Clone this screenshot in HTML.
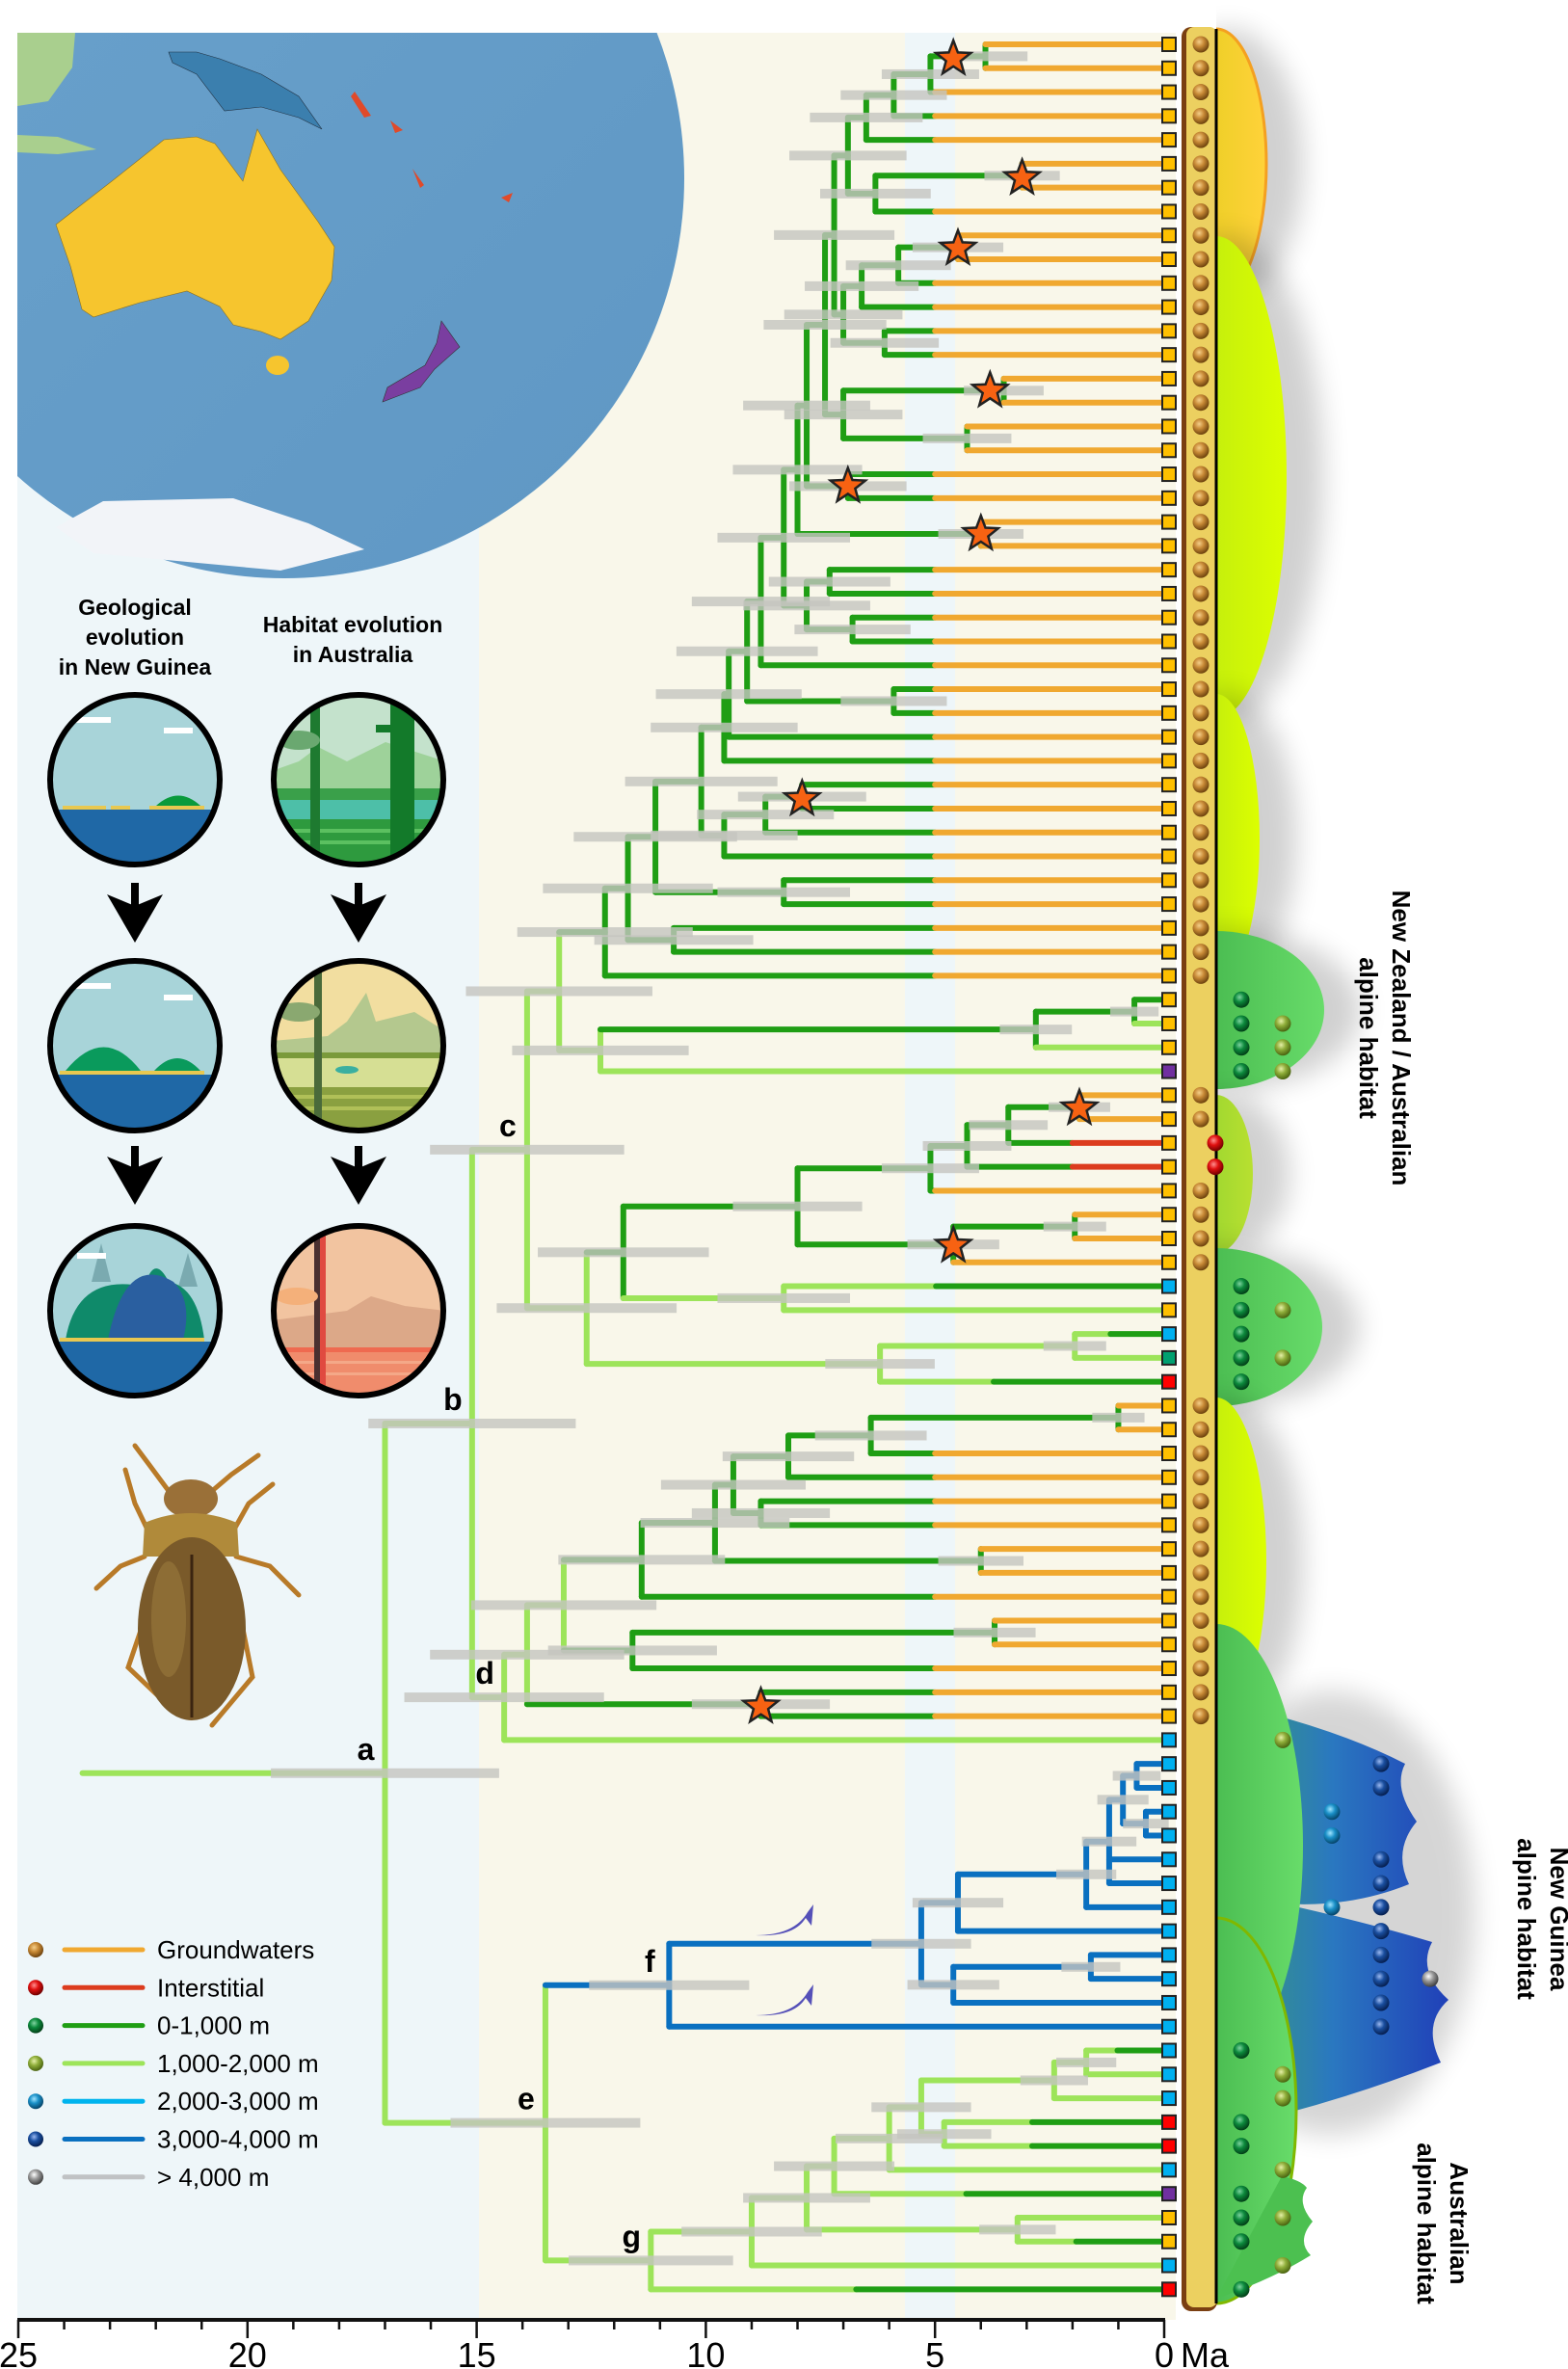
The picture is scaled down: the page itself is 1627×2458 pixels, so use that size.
<!DOCTYPE html>
<html><head><meta charset="utf-8"><title>Phylogeny of alpine and groundwater diving beetles</title>
<style>
html,body{margin:0;padding:0;background:#fff;}
svg{display:block;}
text{font-family:"Liberation Sans",sans-serif;}
</style></head>
<body>
<svg id="fig" xmlns="http://www.w3.org/2000/svg" width="1627" height="2458" viewBox="0 0 1627 2458">
<defs>
  <radialGradient id="gBrown" cx="40%" cy="35%" r="65%"><stop offset="0" stop-color="#f5cf8a"/><stop offset="0.45" stop-color="#c88a36"/><stop offset="1" stop-color="#6e430e"/></radialGradient>
  <radialGradient id="gRed" cx="40%" cy="35%" r="65%"><stop offset="0" stop-color="#ff9090"/><stop offset="0.45" stop-color="#e01010"/><stop offset="1" stop-color="#700000"/></radialGradient>
  <radialGradient id="gDk" cx="40%" cy="35%" r="65%"><stop offset="0" stop-color="#7fd3a0"/><stop offset="0.45" stop-color="#0c8a3c"/><stop offset="1" stop-color="#024018"/></radialGradient>
  <radialGradient id="gOl" cx="40%" cy="35%" r="65%"><stop offset="0" stop-color="#e6f0a8"/><stop offset="0.45" stop-color="#8fae3a"/><stop offset="1" stop-color="#4a6410"/></radialGradient>
  <radialGradient id="gCy" cx="40%" cy="35%" r="65%"><stop offset="0" stop-color="#a0e4ff"/><stop offset="0.45" stop-color="#1a90c8"/><stop offset="1" stop-color="#06456a"/></radialGradient>
  <radialGradient id="gBl" cx="40%" cy="35%" r="65%"><stop offset="0" stop-color="#9ab8f0"/><stop offset="0.45" stop-color="#1a4fa0"/><stop offset="1" stop-color="#061f50"/></radialGradient>
  <radialGradient id="gGr" cx="40%" cy="35%" r="65%"><stop offset="0" stop-color="#ffffff"/><stop offset="0.45" stop-color="#9a9a9a"/><stop offset="1" stop-color="#404040"/></radialGradient>
  <linearGradient id="hOr" x1="0" x2="1"><stop offset="0" stop-color="#e0cc18"/><stop offset="1" stop-color="#ffd23a"/></linearGradient>
  <linearGradient id="hLime" x1="0" x2="1"><stop offset="0" stop-color="#b0e018"/><stop offset="1" stop-color="#dcff00"/></linearGradient>
  <linearGradient id="hOlive" x1="0" x2="1"><stop offset="0" stop-color="#8cd030"/><stop offset="1" stop-color="#b8e030"/></linearGradient>
  <linearGradient id="hGreen" x1="0" x2="1"><stop offset="0" stop-color="#2f9f3a"/><stop offset="1" stop-color="#68dc6a"/></linearGradient>
  <linearGradient id="hBlue" x1="0" x2="1"><stop offset="0" stop-color="#3aa070"/><stop offset="0.5" stop-color="#2a78c0"/><stop offset="1" stop-color="#2040b8"/></linearGradient>
  <linearGradient id="ocean" x1="0" y1="0" x2="1" y2="1"><stop offset="0" stop-color="#6aa2cc"/><stop offset="1" stop-color="#5f97c4"/></linearGradient>
  <filter id="blur" x="-50%" y="-50%" width="200%" height="200%"><feGaussianBlur stdDeviation="14"/></filter>
  <clipPath id="panelClip"><rect x="18" y="34" width="1202" height="2373"/></clipPath>
  <clipPath id="c1"><circle cx="140" cy="809" r="88"/></clipPath>
  <clipPath id="c2"><circle cx="140" cy="1085" r="88"/></clipPath>
  <clipPath id="c3"><circle cx="140" cy="1360" r="88"/></clipPath>
  <clipPath id="c4"><circle cx="372" cy="809" r="88"/></clipPath>
  <clipPath id="c5"><circle cx="372" cy="1085" r="88"/></clipPath>
  <clipPath id="c6"><circle cx="372" cy="1360" r="88"/></clipPath>
  <clipPath id="rightClip"><rect x="1262" y="0" width="400" height="2458"/></clipPath>
</defs>

<!-- backgrounds -->
<rect x="18" y="34" width="479" height="2373" fill="#eef6f9"/>
<rect x="497" y="34" width="723" height="2373" fill="#f9f7ea"/>
<rect x="939" y="34" width="52" height="2373" fill="#eef6f9"/>

<!-- globe map -->
<g clip-path="url(#panelClip)">
  <circle cx="295" cy="185" r="415" fill="url(#ocean)"/>
  <path d="M18,34 L78,34 L75,70 L50,105 L18,110 Z" fill="#a9cf8e"/>
  <path d="M18,140 L60,142 L100,155 L60,160 L18,158Z" fill="#a9cf8e"/>
  <path d="M58,233 L116,188 L145,165 L170,145 L204,142 L223,149 L252,188 L267,134 L291,176 L330,230 L347,256 L344,291 L320,333 L291,352 L271,344 L242,337 L228,318 L194,302 L145,314 L97,329 L85,321 L73,276 Z" fill="#f6c52e" stroke="#8a7020" stroke-width="0.6"/>
  <ellipse cx="288" cy="379" rx="12" ry="10" fill="#f6c52e"/>
  <path d="M175,54 L204,54 L228,61 L271,77 L310,100 L334,134 L310,122 L271,111 L233,115 L204,77 L179,65Z" fill="#3b7fae" stroke="#234" stroke-width="0.6"/>
  <path d="M458,333 L477,360 L451,383 L436,402 L397,417 L402,402 L441,379 L453,356Z" fill="#7a3ea0" stroke="#333" stroke-width="0.6"/>
  <path d="M368,95 L385,120 L378,122 L364,100Z M405,125 L418,135 L410,138Z M428,175 L440,192 L436,195Z M520,205 L532,200 L528,210Z" fill="#e04a2a"/>
  <path d="M58,547 L107,520 L242,517 L320,543 L378,570 L291,592 L97,574Z" fill="#f2f4f8"/>
</g>

<!-- left panel titles -->
<g font-weight="bold" font-size="23" text-anchor="middle" fill="#000">
  <text x="140" y="638">Geological</text><text x="140" y="669">evolution</text><text x="140" y="700">in New Guinea</text>
</g>
<g font-weight="bold" font-size="23" text-anchor="middle" fill="#000">
  <text x="366" y="656">Habitat evolution</text><text x="366" y="687">in Australia</text>
</g>

<!-- geology circles -->
<g clip-path="url(#c1)">
  <rect x="50" y="720" width="180" height="180" fill="#a8d4d9"/>
  <rect x="50" y="840" width="180" height="60" fill="#1f68a6"/>
  <rect x="65" y="836" width="45" height="4" fill="#e8c850"/><rect x="115" y="836" width="20" height="4" fill="#e8c850"/><rect x="155" y="836" width="57" height="4" fill="#e8c850"/>
  <path d="M162,836 Q185,815 208,836Z" fill="#0a9a3c"/>
  <rect x="75" y="744" width="40" height="6" fill="#fff"/><rect x="170" y="755" width="30" height="6" fill="#fff"/>
</g>
<g clip-path="url(#c2)">
  <rect x="50" y="995" width="180" height="180" fill="#a8d4d9"/>
  <rect x="50" y="1115" width="180" height="60" fill="#1f68a6"/>
  <rect x="62" y="1111" width="150" height="4" fill="#e8c850"/>
  <path d="M68,1111 Q108,1062 146,1111Z M160,1111 Q184,1085 208,1111Z" fill="#0a9a5c"/>
  <rect x="75" y="1020" width="40" height="6" fill="#fff"/><rect x="170" y="1032" width="30" height="6" fill="#fff"/>
</g>
<g clip-path="url(#c3)">
  <rect x="50" y="1270" width="180" height="180" fill="#a8d4d9"/>
  <path d="M95,1330 L105,1290 L115,1330Z M185,1335 L195,1300 L205,1335Z" fill="#7aaab0"/>
  <path d="M68,1390 Q80,1320 150,1335 Q160,1300 175,1330 Q205,1335 212,1390Z" fill="#0f8a6a"/>
  <path d="M112,1390 Q130,1300 180,1330 Q200,1350 190,1390Z" fill="#2a5fa0"/>
  <rect x="62" y="1388" width="150" height="4" fill="#e8c850"/>
  <rect x="50" y="1392" width="180" height="60" fill="#1f68a6"/>
  <rect x="80" y="1300" width="30" height="6" fill="#fff"/>
</g>
<g fill="none" stroke="#000" stroke-width="6">
  <circle cx="140" cy="809" r="88"/>
  <circle cx="140" cy="1085" r="88"/>
  <circle cx="140" cy="1360" r="88"/>
</g>

<!-- habitat circles -->
<g clip-path="url(#c4)">
  <rect x="282" y="720" width="180" height="180" fill="#c4e2cc"/>
  <path d="M282,800 L310,790 L330,775 L360,790 L400,770 L462,790 L462,820 L282,820Z" fill="#9ed29a"/>
  <rect x="282" y="818" width="180" height="12" fill="#3aa04a"/>
  <rect x="282" y="830" width="180" height="20" fill="#4dbfa8"/>
  <rect x="282" y="850" width="180" height="60" fill="#2e9a3e"/>
  <rect x="282" y="860" width="180" height="4" fill="#5bc060"/><rect x="282" y="872" width="180" height="4" fill="#5bc060"/>
  <rect x="322" y="720" width="10" height="180" fill="#1e7a30"/>
  <rect x="405" y="720" width="25" height="180" fill="#137a2a"/>
  <rect x="390" y="752" width="40" height="8" fill="#137a2a"/>
  <ellipse cx="310" cy="768" rx="22" ry="10" fill="#6aa870"/>
</g>
<g clip-path="url(#c5)">
  <rect x="282" y="995" width="180" height="180" fill="#f2dea0"/>
  <path d="M282,1080 L340,1075 L360,1060 L380,1030 L390,1060 L430,1050 L462,1070 L462,1095 L282,1095Z" fill="#b4c88e"/>
  <rect x="282" y="1092" width="180" height="6" fill="#7a9a3a"/>
  <rect x="282" y="1098" width="180" height="30" fill="#d6df94"/>
  <ellipse cx="360" cy="1110" rx="12" ry="4" fill="#3aafa0"/>
  <rect x="282" y="1128" width="180" height="50" fill="#8aa040"/>
  <rect x="282" y="1136" width="180" height="4" fill="#b0c058"/><rect x="282" y="1148" width="180" height="4" fill="#b0c058"/>
  <rect x="326" y="995" width="8" height="180" fill="#4a6a3a"/>
  <ellipse cx="310" cy="1050" rx="22" ry="10" fill="#8aa870"/>
</g>
<g clip-path="url(#c6)">
  <rect x="282" y="1270" width="180" height="180" fill="#f2c4a0"/>
  <path d="M282,1370 L360,1360 L385,1345 L420,1355 L462,1360 L462,1400 L282,1400Z" fill="#dca888"/>
  <rect x="282" y="1398" width="180" height="5" fill="#ef6a50"/>
  <rect x="282" y="1403" width="180" height="50" fill="#f08c6c"/>
  <rect x="282" y="1412" width="180" height="3" fill="#f4a888"/><rect x="282" y="1424" width="180" height="3" fill="#f4a888"/>
  <rect x="326" y="1270" width="6" height="180" fill="#4a3030"/>
  <rect x="332" y="1270" width="6" height="180" fill="#e04a40"/>
  <ellipse cx="308" cy="1345" rx="22" ry="9" fill="#f4b07a"/>
</g>
<g fill="none" stroke="#000" stroke-width="6">
  <circle cx="372" cy="809" r="88"/>
  <circle cx="372" cy="1085" r="88"/>
  <circle cx="372" cy="1360" r="88"/>
</g>
<!-- arrows -->
<g fill="#000">
  <g><rect x="136" y="916" width="8" height="30"/><path d="M111,928 L140,940 L169,928 L140,978Z"/></g>
  <g><rect x="136" y="1189" width="8" height="30"/><path d="M111,1200 L140,1212 L169,1200 L140,1250Z"/></g>
  <g><rect x="368" y="916" width="8" height="30"/><path d="M343,928 L372,940 L401,928 L372,978Z"/></g>
  <g><rect x="368" y="1189" width="8" height="30"/><path d="M343,1200 L372,1212 L401,1200 L372,1250Z"/></g>
</g>

<!-- beetle -->
<g>
  <g stroke="#b87a28" stroke-width="5" fill="none" stroke-linecap="round">
    <path d="M175,1547 L155,1520 L140,1500"/><path d="M220,1547 L240,1530 L268,1510"/>
    <path d="M152,1585 L140,1560 L130,1525"/><path d="M244,1585 L258,1560 L283,1540"/>
    <path d="M150,1615 L125,1625 L100,1648"/><path d="M245,1615 L280,1625 L310,1655"/>
    <path d="M150,1680 L133,1730 L175,1770"/><path d="M250,1680 L262,1740 L220,1790"/>
  </g>
  <ellipse cx="198" cy="1555" rx="28" ry="20" fill="#9a7038"/>
  <path d="M150,1580 Q198,1560 246,1580 L248,1615 L148,1615Z" fill="#b08a3a"/>
  <ellipse cx="199" cy="1690" rx="56" ry="95" fill="#7a5a2a"/>
  <path d="M199,1613 L199,1782" stroke="#3a2410" stroke-width="3"/>
  <ellipse cx="175" cy="1680" rx="18" ry="60" fill="#a08040" opacity="0.5"/>
</g>

<!-- legend -->
<g id="legend"></g>

<!-- hills and right column -->
<g id="hills"></g>
<g id="tree"></g>
<g id="column"></g>
<g id="axis"></g>

<!-- right labels -->
<g font-weight="bold" font-size="26" fill="#000" text-anchor="middle">
  <text transform="translate(1445,1077) rotate(90)">New Zealand / Australian</text>
  <text transform="translate(1411,1077) rotate(90)">alpine habitat</text>
  <text transform="translate(1609,1991) rotate(90)">New Guinea</text>
  <text transform="translate(1575,1991) rotate(90)">alpine habitat</text>
  <text transform="translate(1505,2307) rotate(90)">Australian</text>
  <text transform="translate(1471,2307) rotate(90)">alpine habitat</text>
</g>

<script>
// ===== data =====
const tipTypes = "yyyyyyyyyyyyyyyyyyyyyyyyyyyyyyyyyyyyyyyyyyypyyyyyyyybybtryyyyyyyyyyyyyybbbbbbbbbbbbbbbbrrbpyybr".split("");
const leafStyles = "oooooooooooooooooooooooooooooooooooooooogllloorroooomlmlmoooooooooooooolbbbbbbbbbbbbmllmmlmlmlm".split("");
const dotRowsBrown = [0,1,2,3,4,5,6,7,8,9,10,11,12,13,14,15,16,17,18,19,20,21,22,23,24,25,26,27,28,29,30,31,32,33,34,35,36,37,38,39,44,45,48,49,50,51,57,58,59,60,61,62,63,64,65,66,67,68,69,70];
const dotRowsRed = [46,47];
const dotsDarkGreen = [40,41,42,43,52,53,54,55,56,84,87,88,90,91,92,94];
const dotsOlive = [41,42,43,53,55,71,85,86,89,93,91];
const dotsCyan = [74,75,78];
const dotsBlue = [72,73,76,77,78,79,80,81,82,83];
const dotsGray = [81];
const starAges = [4.6,3.1,4.5,3.8,6.9,4.0,7.9,1.85,4.6,8.8];
const starRows = [0.6,5.6,8.55,14.5,18.5,20.5,31.6,44.55,50.3,69.6];
const nodeLabels = ["a","b","c","d","e","f","g"];
const axisTicks = [25,20,15,10,5,0];
const legendLabels = ["Groundwaters","Interstitial","0-1,000 m","1,000-2,000 m","2,000-3,000 m","3,000-4,000 m","> 4,000 m"];
const legendColors = ["#f0a830","#dc3c1e","#1f9e14","#9de45a","#00b4ee","#0a70c0","#c0c2c4"];
const legendDots = ["gBrown","gRed","gDk","gOl","gCy","gBl","gGr"];
const rootStemAge = 23.6;

// tree: [age, child, child, ...], leaf = tip index
const N69=[6.9,[6.5,[5.9,[5.1,[3.9,0,1],2],3],4],[6.3,[3.1,5,6],7]];
const S1b=[7.0,[6.6,[5.8,[4.5,8,9],10],11],[6.1,12,13]];
const N74=[7.4,[7.2,N69,S1b],[7.0,[3.5,14,15],[4.3,16,17]]];
const N80=[8.0,[7.8,N74,[6.9,18,19]],[4.0,20,21]];
const N83=[8.3,N80,[7.8,[7.3,22,23],[6.8,24,25]]];
const N96=[9.6,[9.5,[9.1,[8.8,N83,26],[5.9,27,28]],29],30];
const N117=[11.7,[11.1,[10.1,N96,[9.6,[8.7,[7.9,31,32],33],34]],[8.3,35,36]],[10.7,37,38]];
const TopC=[12.2,N117,39];
const GrpC=[12.3,[2.8,[0.65,40,41],42],43];
const L1=[8.0,[5.1,[4.3,[3.4,[1.85,44,45],46],47],48],[4.6,[1.95,49,50],51]];
const Lwr=[12.6,[11.8,L1,[8.3,52,53]],[6.2,[1.95,54,55],56]];
const cNode=[13.9,[13.2,TopC,GrpC],Lwr];
const Da=[11.4,[9.8,[9.4,[8.2,[6.4,[1.0,57,58],59],60],[8.8,61,62]],[4.0,63,64]],65];
const dNode=[14.4,[13.9,[13.1,Da,[11.6,[3.7,66,67],68]],[8.8,69,70]],71];
const bNode=[15.1,cNode,dNode];
const fNode=[10.8,[5.3,[4.5,[1.7,[1.2,[0.9,[0.6,72,73],[0.4,74,75]],76,77],78],79],[4.6,[1.6,80,81],82]],83];
const gNode=[11.2,[9.0,[7.8,[7.2,[6.0,[5.3,[2.4,[1.7,84,85],86],[4.8,87,88]],89],90],[3.2,91,92]],93],94];
const eNode=[13.5,fNode,gNode];
const aNode=[17.0,bNode,eNode];
const labeledNodes=[aNode,bNode,cNode,dNode,eNode,fNode,gNode];

// ===== scales =====
const X = a => 1208 - a*47.56;
const Y = i => 46 + i*24.78;
const NS="http://www.w3.org/2000/svg";
function el(tag, attrs, parent){ const e=document.createElementNS(NS,tag); for(const k in attrs) e.setAttribute(k,attrs[k]); parent.appendChild(e); return e; }
const COL={o:"#f0a830",r:"#dc3c1e",g:"#1f9e14",l:"#9de45a",b:"#0a70c0",c:"#00b4ee"};
const tipFill={y:"#ffc000",p:"#7030a0",b:"#00b0f0",t:"#00a070",r:"#ff0000"};

const treeG=document.getElementById('tree');
const lineG=el('g',{},treeG); const barG=el('g',{},treeG); const markG=el('g',{},treeG);

function tipsOf(n){ return typeof n==="number"?[n]:n.slice(1).flatMap(tipsOf); }
function nodeY(n){ if(typeof n==="number") return Y(n); const k=n.slice(1); return (nodeY(k[0])+nodeY(k[k.length-1]))/2; }
function nodeColor(n){
  const t=tipsOf(n);
  if(t.every(i=>i>=72&&i<=83)) return COL.b;
  if(n[0]>=12.25) return COL.l;
  if(t.every(i=>i>=84)) return COL.l;
  if(t.every(i=>i>=52&&i<=56)) return COL.l;
  return COL.g;
}
function hline(x1,x2,y,c){
  const l=el('line',{x1:x1,x2:x2,y1:y,y2:y,stroke:c,'stroke-width':6,'stroke-linecap':'round'},lineG);
  
  
}
function drawLeaf(i,pAge){
  const y=Y(i), s=leafStyles[i], xe=1206;
  if(s==='o'){ const sp=Math.min(pAge,5.0); if(pAge>sp) hline(X(pAge),X(sp),y,COL.g); hline(X(sp),xe,y,COL.o); }
  else if(s==='r'){ hline(X(pAge),X(2.0),y,COL.g); hline(X(2.0),xe,y,COL.r); }
  else if(s==='m'){ const sp=Math.min(pAge,0.6*pAge); hline(X(pAge),X(sp),y,COL.l); hline(X(sp),xe,y,COL.g); }
  else hline(X(pAge),xe,y,COL[s]);
  const sq=el('rect',{x:1206,y:y-7,width:14,height:14,fill:tipFill[tipTypes[i]],stroke:'#222','stroke-width':2},markG);
  
  
}
function draw(n,pAge){
  if(typeof n==="number"){ drawLeaf(n,pAge); return; }
  const a=n[0], y=nodeY(n), c=nodeColor(n);
  hline(X(pAge),X(a),y,c);
  const k=n.slice(1);
  const v=el('line',{x1:X(a),x2:X(a),y1:nodeY(k[0]),y2:nodeY(k[k.length-1]),stroke:c,'stroke-width':6,'stroke-linecap':'round'},lineG);
  
  
  const w=0.12*a+0.45;
  const b=el('rect',{x:X(a+w),y:y-5,width:(2*w)*47.56,height:10,fill:'#c4c4bf',opacity:0.8},barG);
  
  
  k.forEach(ch=>draw(ch,a));
}
draw(aNode,rootStemAge);

// stars
function starPath(cx,cy,R,r){ let p=""; for(let j=0;j<10;j++){ const ang=-Math.PI/2+j*Math.PI/5, rr=j%2?r:R; p+=(j?"L":"M")+(cx+rr*Math.cos(ang)).toFixed(1)+","+(cy+rr*Math.sin(ang)).toFixed(1);} return p+"Z"; }
starAges.forEach((a,j)=>{
  const s=el('path',{d:starPath(X(a),Y(starRows[j]),19,8),fill:'#f76212',stroke:'#222','stroke-width':2.5},markG);
  
  
});
// node labels
labeledNodes.forEach((n,j)=>{
  const t=el('text',{x:X(n[0])-20,y:nodeY(n)-14,'font-size':32,'font-weight':'bold','text-anchor':'middle'},markG);
  t.textContent=nodeLabels[j];
  
  
});
// small purple arrows near f
[[824,1996],[824,2079]].forEach(p=>{
  const ar=el('path',{d:`M${p[0]-40},${p[1]+12} Q${p[0]},${p[1]+12} ${p[0]+14},${p[1]-12} L${p[0]+20},${p[1]-20} L${p[0]+18},${p[1]+2} L${p[0]+12},${p[1]-6} Q${p[0]},${p[1]+14} ${p[0]-40},${p[1]+12}Z`,fill:'#5550b8'},markG);
  
  
});

// ===== hills =====
const hills=document.getElementById('hills');
function hill(cy,ry,rx,fill,name,stroke){
  const g=el('g',{'clip-path':'url(#rightClip)'},hills);
  el('ellipse',{cx:1275,cy:cy,rx:rx+25,ry:ry,fill:'#000',opacity:0.18,filter:'url(#blur)'},g);
  const e=el('ellipse',{cx:1262,cy:cy,rx:rx,ry:ry,fill:fill,stroke:stroke||'none','stroke-width':3},g);
  
  
}
hill(170,140,52,'url(#hOr)','groundwater-hill-1','#f4a020');
hill(495,250,73,'url(#hLime)','groundwater-hill-2');
hill(870,150,45,'url(#hLime)','groundwater-hill-3');
hill(1048,82,112,'url(#hGreen)','nz-alpine-hill-1');
hill(1218,82,38,'url(#hOlive)','groundwater-hill-4');
hill(1377,82,110,'url(#hGreen)','nz-alpine-hill-2');
hill(1620,170,52,'url(#hLime)','groundwater-hill-5');
// new guinea blue mountains
(function(){
  const g=el('g',{'clip-path':'url(#rightClip)'},hills);
  el('ellipse',{cx:1380,cy:1985,rx:150,ry:230,fill:'#000',opacity:0.16,filter:'url(#blur)'},g);
  const p=el('path',{d:"M1262,1765 Q1380,1790 1458,1830 Q1445,1855 1470,1890 Q1445,1920 1462,1955 Q1400,1980 1330,1975 Q1420,1995 1486,2015 Q1470,2045 1503,2075 Q1475,2100 1495,2140 Q1380,2185 1262,2210Z",fill:'url(#hBlue)'},g);
  
  
  const e=el('ellipse',{cx:1262,cy:1915,rx:90,ry:230,fill:'url(#hGreen)'},g);
  
  
  const e2=el('ellipse',{cx:1262,cy:2190,rx:83,ry:200,fill:'url(#hGreen)',stroke:'#80b800','stroke-width':3},g);
  
  
  el('path',{d:"M1330,2258 Q1350,2262 1356,2270 Q1345,2285 1362,2305 Q1345,2325 1360,2340 Q1320,2365 1262,2385Z",fill:'#4cc050'},g);
})();

// ===== column =====
const col=document.getElementById('column');
const cr=el('rect',{x:1226,y:28,width:37,height:2370,rx:10,fill:'#7a3f12'},col);


el('rect',{x:1231,y:28,width:32,height:2366,rx:8,fill:'#ecd060'},col);
el('line',{x1:1262,x2:1262,y1:30,y2:2390,stroke:'#000','stroke-width':3},col);
function dot(x,row,grad,name){
  const c=el('circle',{cx:x,cy:Y(row),r:8.5,fill:'url(#'+grad+')'},col);
  
  
}
dotRowsBrown.forEach(r=>dot(1246,r,'gBrown','groundwater-dot'));
dotRowsRed.forEach(r=>dot(1261,r,'gRed','interstitial-dot'));
dotsDarkGreen.forEach(r=>dot(1288,r,'gDk','lowland-dot'));
dotsOlive.forEach(r=>dot(1331,r,'gOl','montane-dot'));
dotsCyan.forEach(r=>dot(1382,r,'gCy','subalpine-dot'));
dotsBlue.forEach(r=>dot(1433,r,'gBl','alpine-dot'));
dotsGray.forEach(r=>dot(1484,r,'gGr','nival-dot'));

// ===== axis =====
const ax=document.getElementById('axis');
el('line',{x1:18,x2:1209,y1:2407,y2:2407,stroke:'#111','stroke-width':4},ax);
for(let t=0;t<=25;t++){
  const tk=el('line',{x1:X(t),x2:X(t),y1:2407,y2:t%5===0?2426:2417,stroke:'#111','stroke-width':2.5},ax);
  
  
}
axisTicks.forEach(t=>{
  const tx=el('text',{x:X(t),y:2456,'font-size':36,'text-anchor':'middle',fill:'#000'},ax);
  tx.textContent=String(t);
  
  
});
const ma=el('text',{x:1225,y:2456,'font-size':36,fill:'#000'},ax);
ma.textContent="Ma";



// ===== legend =====
const lg=document.getElementById('legend');
legendLabels.forEach((lab,j)=>{
  const y=2023+j*39.3;
  const g=el('g',{},lg);
  
  
  el('circle',{cx:37,cy:y,r:8,fill:'url(#'+legendDots[j]+')'},g);
  el('line',{x1:67,x2:148,y1:y,y2:y,stroke:legendColors[j],'stroke-width':5,'stroke-linecap':'round'},g);
  const t=el('text',{x:163,y:y+9,'font-size':26,fill:'#000'},g);
  t.textContent=lab;
});
</script>
</body></html>
